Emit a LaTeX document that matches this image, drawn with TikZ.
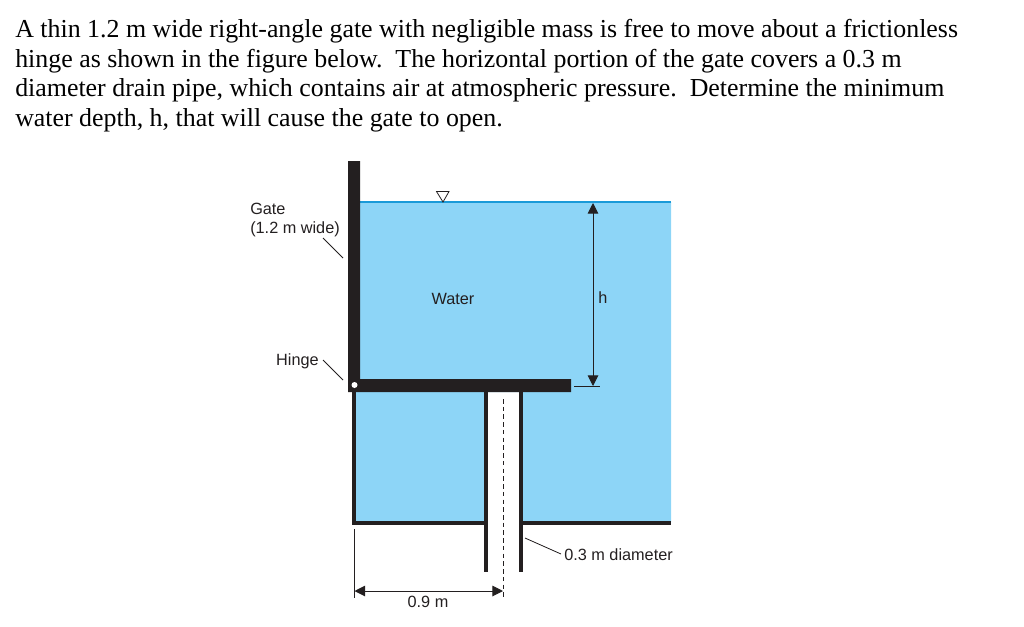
\documentclass[tikz,border=0pt]{standalone}
\usepackage{fontspec}
\setmainfont{Liberation Serif}
\newfontfamily\labelfont{Liberation Sans}
\usetikzlibrary{arrows.meta}
\definecolor{waterblue}{HTML}{8DD5F7}
\definecolor{surfaceblue}{HTML}{1A9AD8}
\definecolor{ink}{HTML}{231F20}
\tikzset{
  px/.style={x=0.75pt,y=-0.75pt},
  para/.style={anchor=base west,inner sep=0pt,font=\fontsize{19.42}{20}\selectfont,text=black},
  lab/.style={inner sep=0pt,font=\labelfont\fontsize{12.2}{13}\selectfont,text=ink},
  leader/.style={draw=ink,line width=0.6pt},
  wall/.style={fill=ink,draw=none},
  dimline/.style={draw=ink,line width=0.7pt},
  dimarrow/.style={draw=ink,line width=0.7pt,{Triangle[length=8pt,width=8pt]}-{Triangle[length=8pt,width=8pt]}}
}
\begin{document}
\begin{tikzpicture}[px]
\useasboundingbox (0,0) rectangle (1024,626);
% paragraph
\node[para] (l1) at (15,37) {A thin 1.2 m wide right-angle gate with negligible mass is free to move about a frictionless};
\node[para] (l2) at (15,67) {hinge as shown in the figure below.\ \ The horizontal portion of the gate covers a 0.3 m};
\node[para] (l3) at (15,96) {diameter drain pipe, which contains air at atmospheric pressure.\ \ Determine the minimum};
\node[para] (l4) at (15,126) {water depth, h, that will cause the gate to open.};
% water
\fill[waterblue] (360,202) -- (671,202) -- (671,522) -- (522,522) -- (522,392) -- (486,392) -- (486,522) -- (355,522) -- (355,385) -- (360,385) -- cycle;
\draw[surfaceblue,line width=1.1pt] (360,202) -- (671,202);
% tank walls and pipe
\fill[wall] (352,390) rectangle (356,525);
\fill[wall] (352,521) rectangle (486,525);
\fill[wall] (484,390) rectangle (488,572);
\fill[wall] (519,390) rectangle (523,572);
\fill[wall] (521,521) rectangle (671,525);
% gate
\fill[wall] (348,161) -- (360,161) -- (360,379) -- (571,379) -- (571,392) -- (348,392) -- cycle;
\fill[white] (354.5,385) circle (3);
% surface mark
\draw[ink,line width=0.6pt,fill=white] (436.5,191.5) -- (449,191.5) -- (443,202) -- cycle;
% labels
\node[lab,anchor=base west] (gate) at (250,214) {Gate};
\node[lab,anchor=base west] (gatew) at (250,233) {(1.2 m wide)};
\node[lab,anchor=base east] (hinge) at (319,365) {Hinge};
\node[lab] (water) at (453,299) {Water};
\node[lab] (hlab) at (603,298) {h};
\node[lab] (d09) at (428,602) {0.9 m};
\node[lab,anchor=base west] (d03) at (564,560) {0.3 m diameter};
% leaders
\coordinate (gatetip) at (343,258);
\coordinate (gatest) at (323,238);
\draw[leader] (gatest) -- (gatetip);
\coordinate (hingetip) at (343,380);
\coordinate (hingest) at (323,360);
\draw[leader] (hingest) -- (hingetip);
\coordinate (pipetip) at (525,538);
\draw[leader] (d03.west |- 0,554) ++(-3,0) -- (pipetip);
% h dimension
\coordinate (htop) at (593,203);
\coordinate (hbot) at (593,386);
\draw[dimarrow] (htop) -- (hbot);
\coordinate (tickl) at (574,386);
\coordinate (tickr) at (600,386);
\draw[dimline] (tickl) -- (tickr);
% 0.9 m dimension
\coordinate (extt) at (354,529);
\coordinate (extb) at (354,598);
\draw[dimline] (extt) -- (extb);
\coordinate (cltop) at (503.5,399);
\coordinate (clbot) at (503.5,597);
\draw[dimline,dash pattern=on 3.4pt off 2.4pt,line width=0.6pt] (cltop) -- (clbot);
\coordinate (dl) at (354.5,591);
\coordinate (dr) at (503,591);
\draw[dimarrow] (dl) -- (dr);
\end{tikzpicture}
\end{document}
